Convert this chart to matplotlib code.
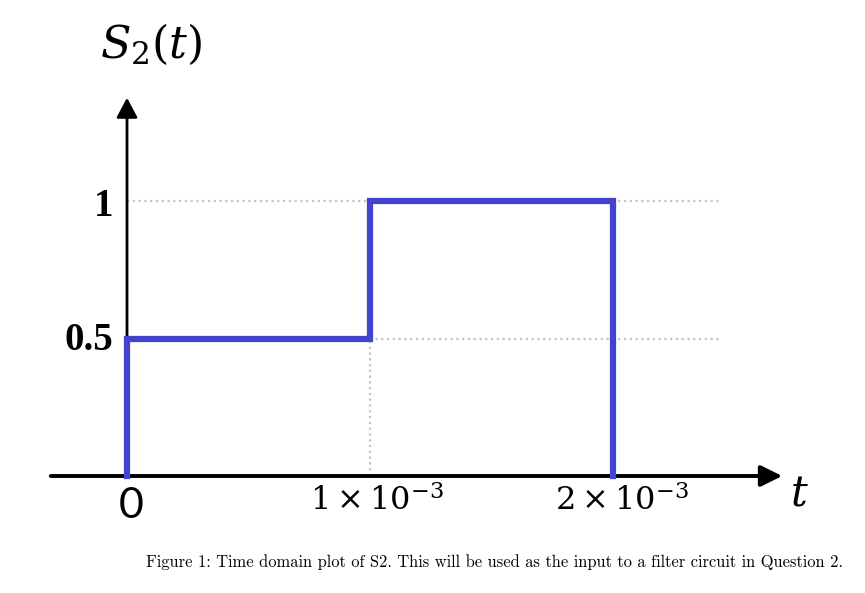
import numpy as np
import matplotlib.pyplot as plt
from matplotlib.patches import FancyArrowPatch

# step signal S2(t)
t_steps = np.array([0.0, 0.0, 1e-3, 1e-3, 2e-3, 2e-3])
s_steps = np.array([0.0, 0.5, 0.5, 1.0, 1.0, 0.0])
y_ticks = [1, 0.5]
y_tick_labels = ['1', '0.5']
x_ticks = [1e-3, 2e-3]
x_tick_labels = [r'$1\times10^{-3}$', r'$2\times10^{-3}$']
grid_end = 2.44e-3
caption = 'Figure 1: Time domain plot of S2. This will be used as the input to a filter circuit in Question 2.'

plt.rcParams['mathtext.fontset'] = 'custom'
plt.rcParams['mathtext.rm'] = 'DejaVu Serif'
plt.rcParams['mathtext.it'] = 'DejaVu Serif:italic'

W, H = 865, 593
fig = plt.figure(figsize=(W/100, H/100), dpi=100)
ax = fig.add_axes([0, 0, 1, 1])
ax.axis('off')

# pixel <-> data mapping
x0px, xscale = 127, 243000.0
y0px, yscale = 476, 275.0
def tx(px):
    return (px - x0px) / xscale
def ty(py):
    return (y0px - py) / yscale
ax.set_xlim(tx(0), tx(W))
ax.set_ylim(ty(H), ty(0))

blue = '#4343cf'
grey = '#c4c4c4'

# dotted guide lines
for yv in y_ticks:
    ax.plot([0, grid_end], [yv, yv], color=grey, lw=1.6, ls=(0, (1, 1.6)), zorder=1)
ax.plot([x_ticks[0], x_ticks[0]], [0, 0.5], color=grey, lw=1.6, ls=(0, (1, 1.6)), zorder=1)

# axes with arrows
xarr = FancyArrowPatch((tx(48), 0), (tx(785), 0), arrowstyle='-|>,head_length=0.65,head_width=0.32',
                       mutation_scale=20, lw=2.8, color='black', zorder=3)
ax.add_patch(xarr)
yarr = FancyArrowPatch((0, 0), (0, ty(95)), arrowstyle='-|>,head_length=0.6,head_width=0.32',
                       mutation_scale=20, lw=2.0, color='black', zorder=3)
ax.add_patch(yarr)

# signal
ax.plot(t_steps, s_steps, color=blue, lw=4.5, solid_joinstyle='miter', zorder=4)

# labels (small nudges so they sit where the reference has them)
y_nudge = {1: 6, 0.5: 2}
for yv, lab in zip(y_ticks, y_tick_labels):
    ax.text(tx(113), yv - y_nudge[yv] / yscale, lab, ha='right', va='center', fontsize=28,
            fontweight='bold', family='Liberation Serif')
ax.text(tx(131), ty(506), '0', ha='center', va='center', fontsize=31, family='Lato')
x_label_px = [377, 622]
for lab, px in zip(x_tick_labels, x_label_px):
    ax.text(tx(px), ty(510), lab, ha='center', va='baseline', fontsize=23)
ax.text(tx(799), ty(505), r'$t$', ha='center', va='baseline', fontsize=30)
ax.text(tx(151), ty(44), r'$S_2(t)$', ha='center', va='center', fontsize=32)

fig.text(146/W, 1 - 567/H, caption, ha='left', va='baseline', fontsize=11.85, family='cmr10')

fig.savefig('out.png', dpi=100)
